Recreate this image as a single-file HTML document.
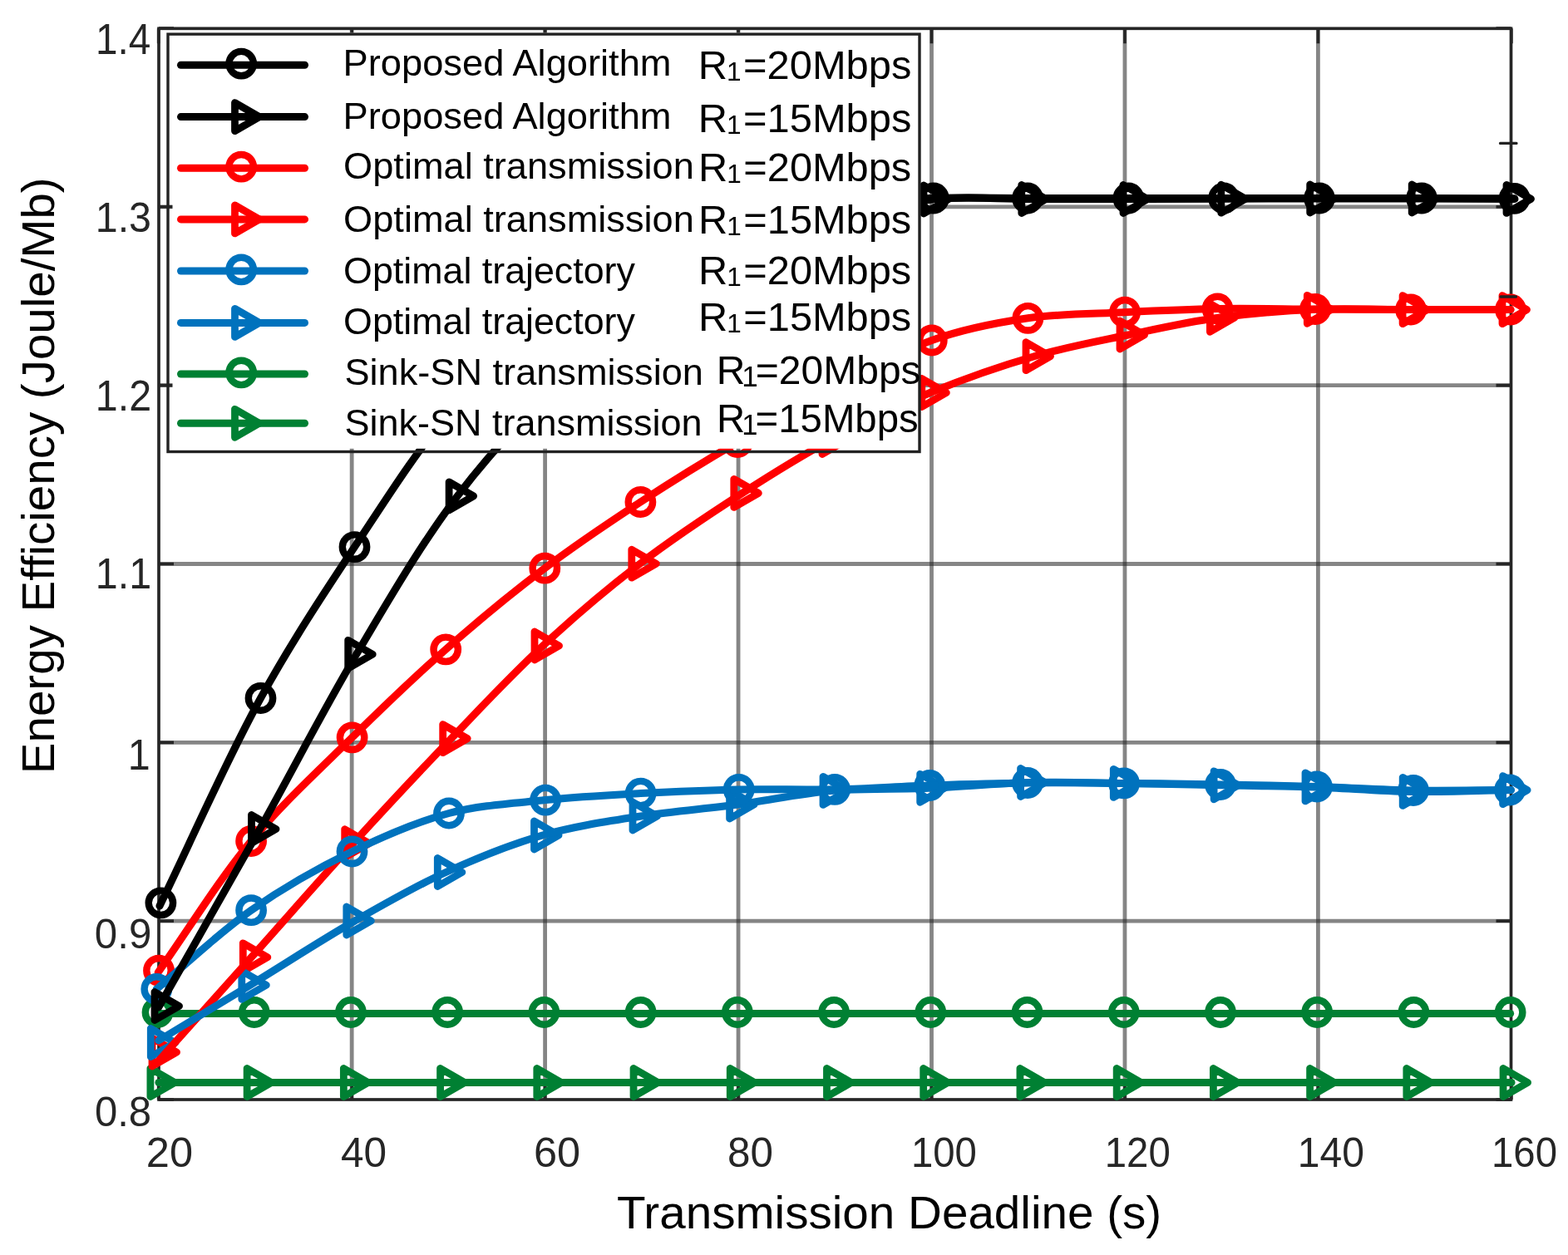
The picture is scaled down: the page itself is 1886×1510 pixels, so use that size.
<!DOCTYPE html><html><head><meta charset="utf-8"><title>Energy Efficiency vs Transmission Deadline</title>
<style>html,body{margin:0;padding:0;background:#fff;}svg{display:block;}text{font-family:"Liberation Sans",Arial,Helvetica,sans-serif;}</style></head><body>
<svg width="1886" height="1510" viewBox="0 0 1886 1510">
<rect width="1886" height="1510" fill="#fff"/>
<path d="M423.15 34.3V1323M655.6 34.3V1323M888.05 34.3V1323M1120.5 34.3V1323M1352.95 34.3V1323M1585.4 34.3V1323" stroke="#262626" stroke-opacity="0.56" stroke-width="4.8" fill="none"/>
<path d="M191 1108.17H1817.5M191 893.34H1817.5M191 678.51H1817.5M191 463.68H1817.5M191 248.85H1817.5" stroke="#262626" stroke-opacity="0.56" stroke-width="4.8" fill="none"/>
<rect x="191" y="34.3" width="1626.5" height="1288.7" fill="none" stroke="#262626" stroke-width="3.7"/>
<path d="M190.7 1323v-18M190.7 34.3v18M423.15 1323v-18M423.15 34.3v18M655.6 1323v-18M655.6 34.3v18M888.05 1323v-18M888.05 34.3v18M1120.5 1323v-18M1120.5 34.3v18M1352.95 1323v-18M1352.95 34.3v18M1585.4 1323v-18M1585.4 34.3v18M1817.85 1323v-18M1817.85 34.3v18M191 1323h18M1817.5 1323h-18M191 1108.17h18M1817.5 1108.17h-18M191 893.34h18M1817.5 893.34h-18M191 678.51h18M1817.5 678.51h-18M191 463.68h18M1817.5 463.68h-18M191 248.85h18M1817.5 248.85h-18M191 34.02h18M1817.5 34.02h-18" stroke="#262626" stroke-width="3.7" fill="none"/>
<path d="M190.9 1302.5 C229.64 1302.5 268.38 1302.5 307.12 1302.5 C345.87 1302.5 384.61 1302.5 423.35 1302.5 C462.09 1302.5 500.83 1302.5 539.58 1302.5 C578.32 1302.5 617.06 1302.5 655.8 1302.5 C694.54 1302.5 733.28 1302.5 772.03 1302.5 C810.77 1302.5 849.51 1302.5 888.25 1302.5 C926.99 1302.5 965.73 1302.5 1004.48 1302.5 C1043.22 1302.5 1081.96 1302.5 1120.7 1302.5 C1159.44 1302.5 1198.18 1302.5 1236.93 1302.5 C1275.67 1302.5 1314.41 1302.5 1353.15 1302.5 C1391.89 1302.5 1430.63 1302.5 1469.38 1302.5 C1508.12 1302.5 1546.86 1302.5 1585.6 1302.5 C1624.34 1302.5 1663.08 1302.5 1701.83 1302.5 C1740.57 1302.5 1779.31 1302.5 1818.05 1302.5" fill="none" stroke="#008033" stroke-width="9.0" stroke-linejoin="round" stroke-linecap="round"/><path d="M180.9 1285.5 L180.9 1319.5 L210.4 1302.5ZM297.12 1285.5 L297.12 1319.5 L326.62 1302.5ZM413.35 1285.5 L413.35 1319.5 L442.85 1302.5ZM529.58 1285.5 L529.58 1319.5 L559.08 1302.5ZM645.8 1285.5 L645.8 1319.5 L675.3 1302.5ZM762.03 1285.5 L762.03 1319.5 L791.53 1302.5ZM878.25 1285.5 L878.25 1319.5 L907.75 1302.5ZM994.48 1285.5 L994.48 1319.5 L1023.98 1302.5ZM1110.7 1285.5 L1110.7 1319.5 L1140.2 1302.5ZM1226.93 1285.5 L1226.93 1319.5 L1256.43 1302.5ZM1343.15 1285.5 L1343.15 1319.5 L1372.65 1302.5ZM1459.38 1285.5 L1459.38 1319.5 L1488.88 1302.5ZM1575.6 1285.5 L1575.6 1319.5 L1605.1 1302.5ZM1691.83 1285.5 L1691.83 1319.5 L1721.33 1302.5ZM1808.05 1285.5 L1808.05 1319.5 L1837.55 1302.5Z" fill="none" stroke="#008033" stroke-width="8.8" stroke-linejoin="round"/>
<path d="M189.5 1219.5 C228.24 1219.5 266.98 1219.5 305.73 1219.5 C344.47 1219.5 383.21 1219.5 421.95 1219.5 C460.69 1219.5 499.43 1219.5 538.17 1219.5 C576.92 1219.5 615.66 1219.5 654.4 1219.5 C693.14 1219.5 731.88 1219.5 770.62 1219.5 C809.37 1219.5 848.11 1219.5 886.85 1219.5 C925.59 1219.5 964.33 1219.5 1003.08 1219.5 C1041.82 1219.5 1080.56 1219.5 1119.3 1219.5 C1158.04 1219.5 1196.78 1219.5 1235.53 1219.5 C1274.27 1219.5 1313.01 1219.5 1351.75 1219.5 C1390.49 1219.5 1429.23 1219.5 1467.98 1219.5 C1506.72 1219.5 1545.46 1219.5 1584.2 1219.5 C1622.94 1219.5 1661.68 1219.5 1700.42 1219.5 C1739.17 1219.5 1777.91 1219.5 1816.65 1219.5" fill="none" stroke="#008033" stroke-width="9.0" stroke-linejoin="round" stroke-linecap="round"/><g fill="none" stroke="#008033" stroke-width="8.4"><circle cx="189.5" cy="1218" r="14.7"/><circle cx="305.73" cy="1218" r="14.7"/><circle cx="421.95" cy="1218" r="14.7"/><circle cx="538.17" cy="1218" r="14.7"/><circle cx="654.4" cy="1218" r="14.7"/><circle cx="770.62" cy="1218" r="14.7"/><circle cx="886.85" cy="1218" r="14.7"/><circle cx="1003.08" cy="1218" r="14.7"/><circle cx="1119.3" cy="1218" r="14.7"/><circle cx="1235.53" cy="1218" r="14.7"/><circle cx="1351.75" cy="1218" r="14.7"/><circle cx="1467.98" cy="1218" r="14.7"/><circle cx="1584.2" cy="1218" r="14.7"/><circle cx="1700.42" cy="1218" r="14.7"/><circle cx="1816.65" cy="1218" r="14.7"/></g>
<path d="M190.2 1170 C227.5 1117.33 262.02 1060.13 302.1 1012 C340.1 966.36 383.45 926.77 423.6 887.3 C461.44 850.1 497.54 815.27 536.2 781.3 C574.78 747.41 615.33 713.84 655.3 683.7 C693.42 654.96 731.57 629.41 770.4 604 C808.82 578.86 847.8 554.8 887 532 C925.67 509.5 964.83 488.51 1004 468 C1042.77 447.7 1081.1 423.8 1120.8 409.5 C1158.64 395.87 1197.55 388.43 1236.4 382.8 C1274.95 377.21 1314.56 377.59 1353 375.7 C1390.57 373.85 1426.84 372.13 1464.5 371.5 C1503.15 370.85 1543.04 371.83 1582 372 C1620.54 372.17 1658.26 372.42 1697 372.5 C1736.57 372.59 1777 372.5 1817 372.5" fill="none" stroke="#ff0000" stroke-width="9.0" stroke-linejoin="round" stroke-linecap="round"/><g fill="none" stroke="#ff0000" stroke-width="8.4"><circle cx="191" cy="1167.7" r="14.7"/><circle cx="302.1" cy="1012" r="14.7"/><circle cx="423.6" cy="887.3" r="14.7"/><circle cx="536.2" cy="781.3" r="14.7"/><circle cx="655.3" cy="683.7" r="14.7"/><circle cx="770.4" cy="604" r="14.7"/><circle cx="887" cy="532" r="14.7"/><circle cx="1004" cy="468" r="14.7"/><circle cx="1120.8" cy="409.5" r="14.7"/><circle cx="1236.4" cy="382.8" r="14.7"/><circle cx="1353" cy="375.7" r="14.7"/><circle cx="1464.5" cy="371.5" r="14.7"/><circle cx="1582" cy="372" r="14.7"/><circle cx="1697" cy="372.5" r="14.7"/><circle cx="1817" cy="372.5" r="14.7"/></g>
<path d="M183 1249 L183 1283 L212.5 1266ZM292.3 1134.8 L292.3 1168.8 L321.8 1151.8ZM414.7 997.7 L414.7 1031.7 L444.2 1014.7ZM532.7 871.6 L532.7 905.6 L562.2 888.6ZM643 760 L643 794 L672.5 777ZM759.8 661.2 L759.8 695.2 L789.3 678.2ZM882.8 576.4 L882.8 610.4 L912.3 593.4ZM989 512.5 L989 546.5 L1018.5 529.5ZM1108.8 455.5 L1108.8 489.5 L1138.3 472.5ZM1234 411.7 L1234 445.7 L1263.5 428.7ZM1347 386 L1347 420 L1376.5 403ZM1455.4 365.3 L1455.4 399.3 L1484.9 382.3ZM1572.3 355.3 L1572.3 389.3 L1601.8 372.3ZM1687.1 355.6 L1687.1 389.6 L1716.6 372.6ZM1807 355.6 L1807 389.6 L1836.5 372.6Z" fill="none" stroke="#ff0000" stroke-width="8.8" stroke-linejoin="round"/>
<path d="M181.3 1237.5 L181.3 1271.5 L210.8 1254.5ZM290.8 1168.3 L290.8 1202.3 L320.3 1185.3ZM416.8 1091 L416.8 1125 L446.3 1108ZM526.3 1032.5 L526.3 1066.5 L555.8 1049.5ZM642.5 988 L642.5 1022 L672 1005ZM761 965 L761 999 L790.5 982ZM877.6 951 L877.6 985 L907.1 968ZM990 934.4 L990 968.4 L1019.5 951.4ZM1106.7 931.3 L1106.7 965.3 L1136.2 948.3ZM1227.6 924.5 L1227.6 958.5 L1257.1 941.5ZM1339.3 925.4 L1339.3 959.4 L1368.8 942.4ZM1460.1 927.8 L1460.1 961.8 L1489.6 944.8ZM1570 929.9 L1570 963.9 L1599.5 946.9ZM1687.2 935.4 L1687.2 969.4 L1716.7 952.4ZM1807.6 933.6 L1807.6 967.6 L1837.1 950.6Z" fill="none" stroke="#0072bd" stroke-width="8.8" stroke-linejoin="round"/>
<path d="M190.7 1276.5 C227.9 1234.93 264.25 1194.36 302.3 1151.8 C342.17 1107.19 384.01 1059.21 424.7 1014.7 C464.14 971.55 503.76 929.09 542.7 888.6 C579.82 850 614.89 812.26 653 777 C690.63 742.18 729.58 708.96 769.8 678.2 C809.54 647.81 852.92 619.11 892.8 593.4 C929.13 569.98 962.03 549.36 999 529.5 C1037.25 508.96 1077.96 489.3 1118.8 472.5 C1159.63 455.7 1203.01 440.49 1244 428.7 C1282.31 417.68 1319.66 410.81 1357 403 C1393.44 395.38 1428.45 387.39 1465.4 382.3 C1503.5 377.05 1543.47 373.91 1582.3 372.3 C1620.7 370.71 1658.42 372.55 1697.1 372.6 C1736.63 372.65 1777.03 372.6 1817 372.6" fill="none" stroke="#ff0000" stroke-width="9.0" stroke-linejoin="round" stroke-linecap="round"/>
<path d="M190.7 1252 C227.4 1229.77 262.9 1208.41 300.8 1185.3 C341.42 1160.54 385.93 1131.42 426.8 1108 C464.25 1086.53 498.71 1066.66 536.3 1049.5 C573.94 1032.32 613.08 1016.28 652.5 1005 C691.33 993.89 731.55 988.19 771 982 C809.91 975.9 849.12 973.15 887.6 968 C925.44 962.93 962.08 954.69 1000 951.4 C1038.44 948.06 1077.47 949.92 1116.7 948.3 C1156.66 946.65 1198.08 942.45 1237.6 941.5 C1275.56 940.59 1311.34 941.87 1349.3 942.4 C1388.78 942.95 1430.78 944.03 1470.1 944.8 C1507.6 945.53 1542.79 945.67 1580 946.9 C1618.45 948.17 1657.86 951.77 1697.2 952.4 C1737.05 953.04 1777.47 951.2 1817.6 950.6" fill="none" stroke="#0072bd" stroke-width="9.0" stroke-linejoin="round" stroke-linecap="round"/>
<path d="M188.3 1190 C226.23 1158.4 262.33 1123.05 302.1 1095.2 C340.83 1068.08 382.69 1044.3 423.5 1024.5 C462.03 1005.81 500.57 988.82 540 978.5 C578.14 968.51 617.47 966.59 656.1 962.6 C694.33 958.65 732.12 956.71 770.6 954.6 C809.65 952.46 849.56 950.7 888.7 949.9 C927.36 949.11 965.66 950.62 1004 949.8 C1042.19 948.98 1079.92 946.3 1118.3 945 C1157.24 943.69 1196.91 942.43 1236 942 C1274.8 941.57 1313.33 942.07 1352 942.4 C1390.67 942.73 1429.33 943.32 1468 944 C1506.67 944.68 1545.34 945.33 1584 946.5 C1622.67 947.67 1661.33 950.33 1700 951 C1738.66 951.67 1777.33 950.67 1816 950.5" fill="none" stroke="#0072bd" stroke-width="9.0" stroke-linejoin="round" stroke-linecap="round"/><g fill="none" stroke="#0072bd" stroke-width="8.4"><circle cx="188.3" cy="1190" r="14.7"/><circle cx="302.1" cy="1095.2" r="14.7"/><circle cx="423.5" cy="1024.5" r="14.7"/><circle cx="540" cy="978.5" r="14.7"/><circle cx="656.1" cy="962.6" r="14.7"/><circle cx="770.6" cy="954.6" r="14.7"/><circle cx="888.7" cy="949.9" r="14.7"/><circle cx="1004" cy="949.8" r="14.7"/><circle cx="1118.3" cy="945" r="14.7"/><circle cx="1236" cy="942" r="14.7"/><circle cx="1352" cy="942.4" r="14.7"/><circle cx="1468" cy="944" r="14.7"/><circle cx="1584" cy="946.5" r="14.7"/><circle cx="1700" cy="951" r="14.7"/><circle cx="1816" cy="950.5" r="14.7"/></g>
<path d="M192 1090 C232.5 1006.67 271.71 915.74 313.5 840 C350.18 773.52 387.93 716.36 426.5 658.1 C463.5 602.21 499.73 544.22 540 497 C576.35 454.39 615.05 416.98 655 385 C691.95 355.42 730.4 330.24 770 310 C807.84 290.66 847.45 275.87 887 265 C925.48 254.42 964.72 249.42 1004 245 C1043.35 240.58 1083.75 239.57 1122.9 238.5 C1161.06 237.46 1197.64 238.5 1236 238.5 C1275.73 238.5 1317.43 238.5 1357.3 238.5 C1396.07 238.5 1433.74 238.5 1472 238.5 C1510.31 238.5 1548.02 238.5 1587 238.5 C1627.31 238.5 1670 238.45 1710 238.5 C1748.1 238.55 1784.4 238.7 1821.6 238.8" fill="none" stroke="#000000" stroke-width="9.0" stroke-linejoin="round" stroke-linecap="round"/><g fill="none" stroke="#000000" stroke-width="8.4"><circle cx="193.4" cy="1086.3" r="14.7"/><circle cx="313.5" cy="840" r="14.7"/><circle cx="426.5" cy="658.1" r="14.7"/><circle cx="1122.9" cy="238.5" r="14.7"/><circle cx="1236" cy="238.5" r="14.7"/><circle cx="1357.3" cy="238.5" r="14.7"/><circle cx="1472" cy="238.5" r="14.7"/><circle cx="1587" cy="238.5" r="14.7"/><circle cx="1710" cy="238.5" r="14.7"/><circle cx="1821.6" cy="238.8" r="14.7"/></g>
<path d="M190.7 1212 C231.3 1140.5 272.58 1068.75 312.5 997.5 C351.89 927.19 388.44 855.03 428.7 787.3 C467.73 721.63 507.75 652.41 550.1 596.9 C586.97 548.57 625.03 507.2 665 470 C701.91 435.65 740.86 407.09 780 380 C817.59 353.99 855.8 329.41 895 310 C932.54 291.41 971.56 276.78 1010 265 C1046.9 253.7 1083.21 244.28 1121 240 C1159.45 235.64 1199.17 239.58 1238.8 239.5 C1279.16 239.41 1320.64 239.55 1361 239.5 C1400.63 239.45 1440.49 239.28 1478.8 239.2 C1515.3 239.12 1548.85 239.03 1585.7 239 C1625.14 238.96 1668.12 238.93 1708.2 239 C1746.83 239.07 1784.07 239.27 1822 239.4" fill="none" stroke="#000000" stroke-width="9.0" stroke-linejoin="round" stroke-linecap="round"/><path d="M186 1193.5 L186 1227.5 L215.5 1210.5ZM302.5 980.5 L302.5 1014.5 L332 997.5ZM418.7 770.3 L418.7 804.3 L448.2 787.3ZM540.1 579.9 L540.1 613.9 L569.6 596.9ZM1111 223 L1111 257 L1140.5 240ZM1228.8 222.5 L1228.8 256.5 L1258.3 239.5ZM1351 222.5 L1351 256.5 L1380.5 239.5ZM1468.8 222.2 L1468.8 256.2 L1498.3 239.2ZM1575.7 222 L1575.7 256 L1605.2 239ZM1698.2 222 L1698.2 256 L1727.7 239ZM1812 222.4 L1812 256.4 L1841.5 239.4Z" fill="none" stroke="#000000" stroke-width="8.8" stroke-linejoin="round"/>
<path d="M1804.5 172.4H1824M1805 357H1823.5" stroke="#222" stroke-width="3.3" stroke-linecap="round"/>
<rect x="207.5" y="39.5" width="897.5" height="500.3" fill="#fff"/>
<rect x="202" y="41.1" width="904" height="502.4" fill="none" stroke="#222" stroke-width="3.4"/>
<path d="M217.5 78.2H366.5" stroke="#000000" stroke-width="9.0" stroke-linecap="round"/>
<circle cx="290.2" cy="76.6" r="14.7" fill="none" stroke="#000000" stroke-width="8.4"/>
<path d="M217.5 140.6H366.5" stroke="#000000" stroke-width="9.0" stroke-linecap="round"/>
<path d="M282.5 123.6 L282.5 157.6 L312 140.6Z" fill="none" stroke="#000000" stroke-width="8.8" stroke-linejoin="round"/>
<path d="M217.5 202.3H366.5" stroke="#ff0000" stroke-width="9.0" stroke-linecap="round"/>
<circle cx="290.2" cy="200.7" r="14.7" fill="none" stroke="#ff0000" stroke-width="8.4"/>
<path d="M217.5 263.9H366.5" stroke="#ff0000" stroke-width="9.0" stroke-linecap="round"/>
<path d="M282.5 246.9 L282.5 280.9 L312 263.9Z" fill="none" stroke="#ff0000" stroke-width="8.8" stroke-linejoin="round"/>
<path d="M217.5 326H366.5" stroke="#0072bd" stroke-width="9.0" stroke-linecap="round"/>
<circle cx="290.2" cy="324.4" r="14.7" fill="none" stroke="#0072bd" stroke-width="8.4"/>
<path d="M217.5 388.4H366.5" stroke="#0072bd" stroke-width="9.0" stroke-linecap="round"/>
<path d="M282.5 371.4 L282.5 405.4 L312 388.4Z" fill="none" stroke="#0072bd" stroke-width="8.8" stroke-linejoin="round"/>
<path d="M217.5 450H366.5" stroke="#008033" stroke-width="9.0" stroke-linecap="round"/>
<circle cx="290.2" cy="448.4" r="14.7" fill="none" stroke="#008033" stroke-width="8.4"/>
<path d="M217.5 509.3H366.5" stroke="#008033" stroke-width="9.0" stroke-linecap="round"/>
<path d="M282.5 492.3 L282.5 526.3 L312 509.3Z" fill="none" stroke="#008033" stroke-width="8.8" stroke-linejoin="round"/>
<g transform="translate(114.97 65.00) scale(0.9823 1.0636)"><text x="0" y="0" font-size="48.5" fill="#262626">1.4</text></g>
<g transform="translate(114.81 278.70) scale(0.9967 1.0424)"><text x="0" y="0" font-size="48.5" fill="#262626">1.3</text></g>
<g transform="translate(114.81 493.90) scale(0.9984 1.0576)"><text x="0" y="0" font-size="48.5" fill="#262626">1.2</text></g>
<g transform="translate(114.81 707.90) scale(0.9984 1.0606)"><text x="0" y="0" font-size="48.5" fill="#262626">1.1</text></g>
<g transform="translate(153.81 925.90) scale(0.9984 1.0606)"><text x="0" y="0" font-size="48.5" fill="#262626">1</text></g>
<g transform="translate(113.87 1140.80) scale(1.0143 1.0294)"><text x="0" y="0" font-size="48.5" fill="#262626">0.9</text></g>
<g transform="translate(113.98 1354.60) scale(1.0111 1.0176)"><text x="0" y="0" font-size="48.5" fill="#262626">0.8</text></g>
<g transform="translate(175.82 1404.00) scale(1.0420 1.0353)"><text x="0" y="0" font-size="48.5" fill="#262626">20</text></g>
<g transform="translate(409.88 1404.00) scale(1.0216 1.0353)"><text x="0" y="0" font-size="48.5" fill="#262626">40</text></g>
<g transform="translate(641.92 1404.00) scale(1.0400 1.0353)"><text x="0" y="0" font-size="48.5" fill="#262626">60</text></g>
<g transform="translate(874.96 1404.00) scale(1.0180 1.0353)"><text x="0" y="0" font-size="48.5" fill="#262626">80</text></g>
<g transform="translate(1095.90 1404.00) scale(0.9760 1.0353)"><text x="0" y="0" font-size="48.5" fill="#262626">100</text></g>
<g transform="translate(1328.80 1404.00) scale(0.9760 1.0353)"><text x="0" y="0" font-size="48.5" fill="#262626">120</text></g>
<g transform="translate(1560.84 1404.00) scale(0.9907 1.0353)"><text x="0" y="0" font-size="48.5" fill="#262626">140</text></g>
<g transform="translate(1794.00 1404.00) scale(0.9760 1.0353)"><text x="0" y="0" font-size="48.5" fill="#262626">160</text></g>
<g transform="translate(741.89 1478.21) scale(1.0110 0.9827)"><text x="0" y="0" font-size="56" fill="#000">Transmission Deadline (s)</text></g>
<g transform="translate(65.08 931.14) rotate(-90) scale(1.0087 0.9769)"><text x="0" y="0" font-size="56" fill="#000">Energy Efficiency (Joule/Mb)</text></g>
<g transform="translate(412.58 91.20) scale(1.0060 0.9720)"><text x="0" y="0" font-size="45" fill="#000">Proposed Algorithm</text></g>
<g transform="translate(412.58 154.60) scale(1.0060 0.9720)"><text x="0" y="0" font-size="45" fill="#000">Proposed Algorithm</text></g>
<g transform="translate(413.09 215.10) scale(1.0039 0.9720)"><text x="0" y="0" font-size="45" fill="#000">Optimal transmission</text></g>
<g transform="translate(413.09 278.50) scale(1.0039 0.9720)"><text x="0" y="0" font-size="45" fill="#000">Optimal transmission</text></g>
<g transform="translate(413.11 340.70) scale(0.9951 0.9720)"><text x="0" y="0" font-size="45" fill="#000">Optimal trajectory</text></g>
<g transform="translate(413.11 401.70) scale(0.9951 0.9720)"><text x="0" y="0" font-size="45" fill="#000">Optimal trajectory</text></g>
<g transform="translate(414.49 463.40) scale(1.0033 0.9720)"><text x="0" y="0" font-size="45" fill="#000">Sink-SN transmission</text></g>
<g transform="translate(414.50 523.80) scale(1.0002 0.9720)"><text x="0" y="0" font-size="45" fill="#000">Sink-SN transmission</text></g>
<g transform="translate(839.73 95.10) scale(1.0178 0.9920)"><text x="0" y="0" font-size="48" fill="#000">R<tspan font-size="31" dx="-1" dy="2">1</tspan><tspan dx="2.5" dy="-2">=20Mbps</tspan></text></g>
<g transform="translate(839.73 158.80) scale(1.0178 0.9920)"><text x="0" y="0" font-size="48" fill="#000">R<tspan font-size="31" dx="-1" dy="2">1</tspan><tspan dx="2.5" dy="-2">=15Mbps</tspan></text></g>
<g transform="translate(840.04 218.00) scale(1.0158 0.9920)"><text x="0" y="0" font-size="48" fill="#000">R<tspan font-size="31" dx="-1" dy="2">1</tspan><tspan dx="2.5" dy="-2">=20Mbps</tspan></text></g>
<g transform="translate(840.04 281.00) scale(1.0158 0.9920)"><text x="0" y="0" font-size="48" fill="#000">R<tspan font-size="31" dx="-1" dy="2">1</tspan><tspan dx="2.5" dy="-2">=15Mbps</tspan></text></g>
<g transform="translate(840.04 342.20) scale(1.0158 0.9920)"><text x="0" y="0" font-size="48" fill="#000">R<tspan font-size="31" dx="-1" dy="2">1</tspan><tspan dx="2.5" dy="-2">=20Mbps</tspan></text></g>
<g transform="translate(840.04 398.20) scale(1.0158 0.9920)"><text x="0" y="0" font-size="48" fill="#000">R<tspan font-size="31" dx="-1" dy="2">1</tspan><tspan dx="2.5" dy="-2">=15Mbps</tspan></text></g>
<g transform="translate(861.70 462.00) scale(1.0000 0.9920)"><text x="0" y="0" font-size="48" fill="#000">R<tspan font-size="35" dx="-4" dy="3">1</tspan><tspan dx="-3" dy="-3">=20Mbps</tspan></text></g>
<g transform="translate(862.05 520.20) scale(0.9871 0.9920)"><text x="0" y="0" font-size="48" fill="#000">R<tspan font-size="35" dx="-4" dy="3">1</tspan><tspan dx="-3" dy="-3">=15Mbps</tspan></text></g>
</svg></body></html>
